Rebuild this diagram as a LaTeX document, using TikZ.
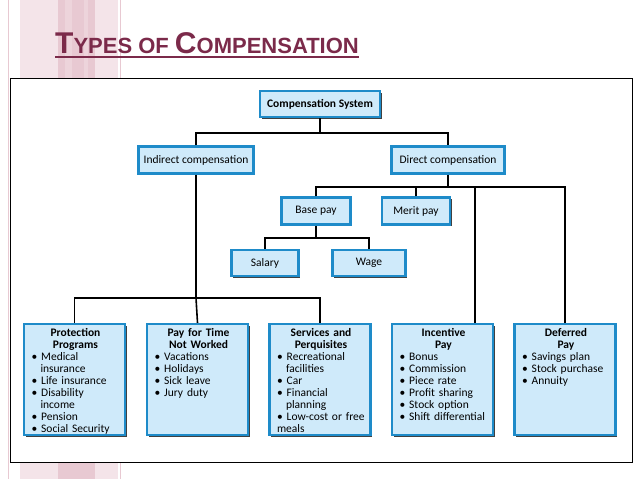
\documentclass[tikz,border=0pt]{standalone}
\usepackage{fontspec}
\setmainfont{Carlito}
\newfontfamily\titlefont{Liberation Sans}
\usetikzlibrary{shadows}
\definecolor{bfill}{HTML}{CFEAFA}
\definecolor{bdraw}{HTML}{1E8BC9}
\definecolor{maroon}{HTML}{7B2A4A}
\definecolor{pinkbar}{HTML}{E8C9D2}
\newcommand{\itm}[1]{\par\hangindent=9pt\hangafter=1\noindent\textbullet\hspace{4pt}#1}
\tikzset{
 bx/.style={draw=bdraw,line width=2.4pt,fill=bfill,drop shadow={shadow xshift=1.6pt,shadow yshift=-1.6pt,fill=black!75,opacity=1},inner sep=0pt,font=\fontsize{11.5}{13}\selectfont},
 bigbx/.style={bx,minimum width=101pt,minimum height=111pt},
 lst/.style={anchor=north,text width=88pt,align=left,font=\fontsize{11.5}{12}\selectfont,inner sep=0pt},
 ln/.style={line width=1.6pt,black}
}
\begin{document}
\begin{tikzpicture}[x=1pt,y=-1pt]
\useasboundingbox (0,0) rectangle (638,479);
% decorative strips
\fill[pinkbar!50] (20,0) rectangle (118,78);
\fill[pinkbar] (58,0) rectangle (95,78);
\fill[pinkbar!80] (65,0) rectangle (72,78);
\fill[pinkbar!80] (84,0) rectangle (88,78);
\fill[pinkbar!50] (20,462) rectangle (118,479);
\fill[pinkbar] (58,462) rectangle (95,479);
\draw[pinkbar,line width=1pt] (8,0) -- (8,479);
\draw[pinkbar,line width=1pt] (120,0) -- (120,78);
\draw[pinkbar,line width=1pt] (120,462) -- (120,479);
% title
\node[anchor=base west,inner sep=0pt,text=maroon,font=\titlefont\bfseries] (title) at (55,53)
 {\fontsize{30}{30}\selectfont T\fontsize{22}{22}\selectfont YPES OF \fontsize{30}{30}\selectfont C\fontsize{22}{22}\selectfont OMPENSATION};
\draw[maroon,line width=1.4pt] ([yshift=-4pt]title.base west) -- ([yshift=-4pt]title.base east);
% frame
\draw[black,line width=0.8pt,fill=white] (10,78) rectangle (632,462);
% nodes
\node[bx,minimum width=120pt,minimum height=26pt] (cs) at (320,104) {\textbf{Compensation System}};
\node[bx,minimum width=115pt,minimum height=27pt] (ind) at (196,160) {Indirect compensation};
\node[bx,minimum width=113pt,minimum height=27pt] (dir) at (448,160) {Direct compensation};
\node[bx,minimum width=69pt,minimum height=27pt] (base) at (316,211) {Base pay};
\node[bx,minimum width=68pt,minimum height=27pt] (merit) at (416,211) {Merit pay};
\node[bx,minimum width=67pt,minimum height=26pt] (sal) at (265,263) {Salary};
\node[bx,minimum width=73pt,minimum height=26pt] (wage) at (369,263) {Wage};
\node[bigbx] (prot) at (74.5,379.5) {};
\node[bigbx] (ptnw) at (197.5,379.5) {};
\node[bigbx] (serv) at (320,379.5) {};
\node[bigbx] (inc) at (442.5,379.5) {};
\node[bigbx] (def) at (565,379.5) {};
% texts
\node[lst] (tprot) at ([xshift=1pt,yshift=-5pt]prot.north) {{\centering\textbf{Protection\\Programs}\par}\raggedright
 \itm{Medical insurance}\itm{Life insurance}\itm{Disability income}\itm{Pension}\itm{Social Security}};
\node[lst] (tptnw) at ([xshift=1pt,yshift=-5pt]ptnw.north) {{\centering\textbf{Pay for Time\\Not Worked}\par}\raggedright
 \itm{Vacations}\itm{Holidays}\itm{Sick leave}\itm{Jury duty}};
\node[lst] (tserv) at ([xshift=1pt,yshift=-5pt]serv.north) {{\centering\textbf{Services and\\Perquisites}\par}\raggedright
 \itm{Recreational facilities}\itm{Car}\itm{Financial planning}\itm{Low-cost or free meals}};
\node[lst] (tinc) at ([xshift=1pt,yshift=-5pt]inc.north) {{\centering\textbf{Incentive\\Pay}\par}\raggedright
 \itm{Bonus}\itm{Commission}\itm{Piece rate}\itm{Profit sharing}\itm{Stock option}\itm{Shift differential}};
\node[lst] (tdef) at ([xshift=1pt,yshift=-5pt]def.north) {{\centering\textbf{Deferred\\Pay}\par}\raggedright
 \itm{Savings plan}\itm{Stock purchase}\itm{Annuity}};
% connectors
\coordinate (j1) at (320,133);
\coordinate (j2) at (196,298);
\coordinate (j3) at (448,187);
\coordinate (j4) at (316,238);
\draw[ln] (cs.south) -- (j1);
\draw[ln] (ind.north) |- (j1) -| (dir.north);
\draw[ln] (ind.south) -- (j2);
\draw[ln] (prot.north) |- (j2) -| (serv.north);
\draw[ln] (ptnw.north) -- (j2);
\draw[ln] (dir.south) -- (j3);
\draw[ln] (base.north) |- (j3) -| (def.north);
\draw[ln] (merit.north) -- (merit.north |- j3);
\draw[ln] (inc.north -| 475,0) -- (475,187);
\draw[ln] (base.south) -- (j4);
\draw[ln] (sal.north) |- (j4) -| (wage.north);
\end{tikzpicture}
\end{document}
